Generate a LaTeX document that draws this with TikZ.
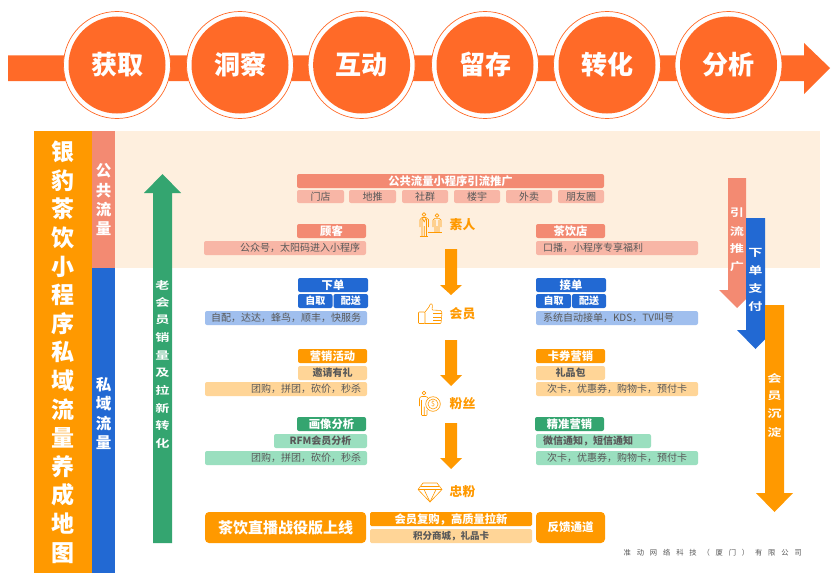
\documentclass[tikz,border=0pt]{standalone}
\usepackage{graphicx}
\usepackage{fontspec}
\setmainfont{Noto Sans CJK SC}
\newfontfamily\widefont{Noto Sans CJK SC Bold}
\newfontfamily\spacedfont[LetterSpace=80]{Noto Sans CJK SC}
\definecolor{cOrange}{HTML}{FF9900}
\definecolor{cRed}{HTML}{FF6A28}
\definecolor{cCoral}{HTML}{F38A72}
\definecolor{cCoralL}{HTML}{F8B6A6}
\definecolor{cCream}{HTML}{FEEFDE}
\definecolor{cBlue}{HTML}{2269D3}
\definecolor{cBlueL}{HTML}{A0BFEE}
\definecolor{cOrangeL}{HTML}{FFD597}
\definecolor{cGreen}{HTML}{34A570}
\definecolor{cGreenL}{HTML}{9ADFBF}
\definecolor{cText}{HTML}{595959}
\tikzset{
  base/.style={inner sep=0pt,outer sep=0pt,rounded corners=2pt,anchor=north west},
  hd/.style={base,text=white,font=\fontsize{11.3}{13}\selectfont\bfseries},
  sub/.style={base,text=cText,font=\fontsize{10}{12}\selectfont},
  subb/.style={base,text=#1,font=\fontsize{10}{12}\selectfont\bfseries},
  subb/.default=cText,
  bandtxt/.style={text=white,inner sep=0pt,align=center,font=\fontsize{15.5}{19.2}\selectfont\bfseries},
  stage/.style={circle,fill=cRed,text=white,minimum size=97pt,inner sep=0pt,font=\fontsize{26}{30}\selectfont\bfseries},
  ring/.style={circle,draw=cRed,line width=.7pt,fill=white,minimum size=107pt,inner sep=0pt},
  lvl/.style={text=cOrange,inner sep=0pt,font=\fontsize{12.8}{15}\selectfont\bfseries},
  ico/.style={draw=cOrange,line width=.6pt,fill=none,line join=round},
  wtxt/.style={text=white,inner sep=0pt,font=\widefont\fontsize{10.5}{12}\selectfont}
}
\newcommand{\wch}[1]{\scalebox{1.35}[1]{#1}}
\newcommand{\bx}[7]{%
  \pgfmathsetlengthmacro{\bw}{(#4-#2)*1pt}\pgfmathsetlengthmacro{\bh}{(#5-#3)*1pt}%
  \node[#6,minimum width=\bw,minimum height=\bh,text width=\bw,align=center] (#1) at (#2,#3) {#7};}
\newcommand{\rt}[2][6]{\hspace*{\fill}#2\hspace*{#1pt}}
\newcommand{\lt}[1]{\hspace*{7pt}#1\hspace*{\fill}}
\newcommand{\dnarrow}[8]{%
  \coordinate (#1s) at (#2,#3);\coordinate (#1e) at (#2,#5);
  \fill[#8] (#2-#6,#3) -- (#2+#6,#3) -- (#2+#6,#4) -- (#2+#7,#4) -- (#1e) -- (#2-#7,#4) -- (#2-#6,#4) -- cycle;}
\begin{document}
\begin{tikzpicture}[x=1pt,y=-1pt]
\useasboundingbox (0,0) rectangle (840,586);
\fill[white] (0,0) rectangle (840,586);
\coordinate (topS) at (8,68);\coordinate (topE) at (830,68);
\fill[cRed] (8,55.5) -- (804,55.5) -- (804,43) -- (topE) -- (804,94) -- (804,81) -- (8,81) -- cycle;
\foreach \n/\x/\t in {a/117/获取,b/240/洞察,c/361.6/互动,d/485/留存,e/607/转化,f/728.5/分析}{
  \node[ring] (r\n) at (\x,65) {};
  \node[stage] (s\n) at (\x,65) {\t};
}
\fill[cCream] (115,131) rectangle (820,268);
\node[fill=cOrange,minimum width=58pt,minimum height=442pt,inner sep=0pt,anchor=north west,text=white,align=center,font=\fontsize{23}{28.6}\selectfont\bfseries] (title) at (34,131) {银\\豹\\茶\\饮\\小\\程\\序\\私\\域\\流\\量\\养\\成\\地\\图};
\node[fill=cCoral,minimum width=23pt,minimum height=137pt,inner sep=0pt,anchor=north west,bandtxt] (pub) at (92,131) {公\\共\\流\\量};
\node[fill=cBlue,minimum width=23pt,minimum height=305pt,inner sep=0pt,anchor=north west] (pri) at (92,268) {};
\node[bandtxt] (pritxt) at (103.5,413.5) {私\\域\\流\\量};
\coordinate (gS) at (162.5,543);\coordinate (gE) at (162.5,174);
\fill[cGreen] (153,543) -- (172,543) -- (172,193) -- (181,193) -- (gE) -- (144,193) -- (153,193) -- cycle;
\foreach \c [count=\i from 0] in {老,会,员,销,量,及,拉,新,转,化}
  \node[wtxt] (g\i) at (162.5,285+17.6*\i) {\wch{\c}};
\dnarrow{ca}{737}{178}{290}{308}{9}{18}{cCoral}
\dnarrow{ba}{755.5}{218}{330}{349}{9.5}{18.5}{cBlue}
\dnarrow{oa}{774.5}{305}{493}{512}{9.5}{18.5}{cOrange}
\foreach \c [count=\i from 0] in {引,流,推,广}
  \node[wtxt] (ya\i) at (737,213+18*\i) {\wch{\c}};
\foreach \c [count=\i from 0] in {下,单,支,付}
  \node[wtxt] (yb\i) at (755.5,253+18*\i) {\wch{\c}};
\foreach \c [count=\i from 0] in {会,员,沉,淀}
  \node[wtxt] (yc\i) at (774.5,378+18*\i) {\wch{\c}};
\dnarrow{m1}{451}{249}{285}{295}{6}{11}{cOrange}
\dnarrow{m2}{451}{340}{375}{386}{6}{11}{cOrange}
\dnarrow{m3}{451}{423}{458}{469}{6}{11}{cOrange}
\bx{p0}{297}{174}{604}{188}{hd,fill=cCoral}{公共流量小程序引流推广}
\bx{p1}{297}{190}{344}{203}{sub,fill=cCoralL}{门店}
\bx{p2}{349}{190}{396}{203}{sub,fill=cCoralL}{地推}
\bx{p3}{402}{190}{448}{203}{sub,fill=cCoralL}{社群}
\bx{p4}{454}{190}{500}{203}{sub,fill=cCoralL}{楼宇}
\bx{p5}{506}{190}{552}{203}{sub,fill=cCoralL}{外卖}
\bx{p6}{558}{190}{604}{203}{sub,fill=cCoralL}{朋友圈}
\bx{gk}{297}{224}{366}{238}{hd,fill=cCoral}{顾客}
\bx{gk2}{204}{241}{366}{255}{sub,fill=cCoralL}{\rt{公众号，太阳码进入小程序}}
\bx{cy}{536}{224}{605}{238}{hd,fill=cCoral}{茶饮店}
\bx{cy2}{536}{241}{698}{255}{sub,fill=cCoralL}{\lt{口播，小程序专享福利}}
\bx{xd}{298}{278}{368}{292}{hd,fill=cBlue}{下单}
\bx{xd1}{298}{294}{332.5}{308}{subb=white,fill=cBlue}{自取}
\bx{xd2}{333.5}{294}{368}{308}{subb=white,fill=cBlue}{配送}
\bx{xd3}{205}{311}{367}{325}{sub,fill=cBlueL}{\rt{自配，达达，蜂鸟，顺丰，快服务}}
\bx{jd}{536}{278}{606}{292}{hd,fill=cBlue}{接单}
\bx{jd1}{536}{294}{571}{308}{subb=white,fill=cBlue}{自取}
\bx{jd2}{572}{294}{606}{308}{subb=white,fill=cBlue}{配送}
\bx{jd3}{536}{311}{698}{325}{sub,fill=cBlueL}{\lt{系统自动接单，KDS，TV叫号}}
\bx{yx}{298}{349}{367}{363}{hd,fill=cOrange}{营销活动}
\bx{yx1}{298}{366}{367}{380}{subb,fill=cOrangeL}{邀请有礼}
\bx{yx2}{205}{382}{367}{396}{sub,fill=cOrangeL}{\rt{团购，拼团，砍价，秒杀}}
\bx{kq}{536}{349}{605}{363}{hd,fill=cOrange}{卡券营销}
\bx{kq1}{536}{366}{605}{380}{subb,fill=cOrangeL}{礼品包}
\bx{kq2}{536}{382}{698}{396}{sub,fill=cOrangeL}{次卡，优惠券，购物卡，预付卡}
\bx{hx}{297}{417}{366}{431}{hd,fill=cGreen}{画像分析}
\bx{hx1}{274}{434}{367}{448}{subb,fill=cGreenL}{RFM会员分析}
\bx{hx2}{205}{451}{367}{465}{sub,fill=cGreenL}{\rt{团购，拼团，砍价，秒杀}}
\bx{jz}{535}{417}{604}{431}{hd,fill=cGreen}{精准营销}
\bx{jz1}{536}{434}{651}{448}{subb,fill=cGreenL}{\lt{微信通知，短信通知}}
\bx{jz2}{536}{451}{698}{465}{sub,fill=cGreenL}{次卡，优惠券，购物卡，预付卡}
\bx{zb}{205}{512}{366}{543}{base,rounded corners=4pt,fill=cOrange,text=white,font=\fontsize{15}{18}\selectfont\bfseries}{茶饮直播战役版上线}
\bx{fg}{370}{512}{532}{526}{hd,rounded corners=1.5pt,fill=cOrange}{会员复购，高质量拉新}
\bx{jf}{370}{529}{532}{543}{subb,rounded corners=1.5pt,fill=cOrangeL,font=\fontsize{9.5}{11}\selectfont\bfseries}{积分商城，礼品卡}
\bx{fk}{536}{512}{605}{543}{base,rounded corners=4pt,fill=cOrange,text=white,font=\fontsize{11.5}{14}\selectfont\bfseries}{反馈通道}
\node[lvl] (l1) at (462.5,225) {素人};
\node[lvl] (l2) at (462.5,314) {会员};
\node[lvl] (l3) at (462.5,404) {粉丝};
\node[lvl] (l4) at (462.5,492) {忠粉};
\draw[ico] (424,214.5) circle (1.9);
\draw[ico] (437,215.5) circle (1.9);
\draw[ico] (420,219.5) -- (422,217.5) -- (426,217.5) -- (428.5,219.5) -- (428.5,227) (420,219.5) -- (420,227) (422,219) -- (422,236) (426.5,219) -- (426.5,236) (424.2,226) -- (424.2,236) (422.5,218) -- (424.2,222) -- (426,218);
\draw[ico] (433,220) -- (435,218.3) -- (439,218.3) -- (441,220) -- (441,227) (433,220) -- (433,227) (435,220) -- (435,232.5) (439,220) -- (439,232.5) (437,226) -- (437,232.5);
\draw[ico] (419.5,236) -- (428,236) (428,232.5) -- (442,232.5);
\draw[ico,rounded corners=.8pt] (418.5,312) rectangle (425,323.5);
\draw[ico,rounded corners=.8pt] (425,312) -- (429,307) -- (430.5,303.5) -- (432.5,304.5) -- (432,310) -- (441,310.5) -- (442,312.5) -- (441,323.5) -- (425,323.5);
\draw[ico] (433,313.5) -- (441.5,313.5) (433,317) -- (441.3,317) (433,320.5) -- (441,320.5);
\draw[ico] (424,393) circle (1.9);
\draw[ico,rounded corners=.8pt] (419.5,406) -- (419.5,398) -- (421,396.5) -- (426.5,396.5) -- (428,398) (421.5,400) -- (421.5,415.5) -- (427,415.5) -- (427,410) (424.2,406.5) -- (424.2,415.5);
\draw[ico] (433,404) circle (7.3) (433,404) circle (5);
\node[inner sep=0pt,text=cOrange,font=\fontsize{7}{8}\selectfont] (dol) at (433,404) {\$};
\draw[ico] (423,483) -- (437,483) -- (442,489.5) -- (430,502) -- (418,489.5) -- cycle;
\draw[ico] (418,489.5) -- (442,489.5) (421,486.5) -- (439,486.5) (424,489.5) -- (430,502) -- (436,489.5);
\node[inner sep=0pt,anchor=west,text=cText,font=\spacedfont\fontsize{7.3}{9}\selectfont] (ft) at (623.5,553) {准动网络科技（厦门）有限公司};
\end{tikzpicture}
\end{document}
